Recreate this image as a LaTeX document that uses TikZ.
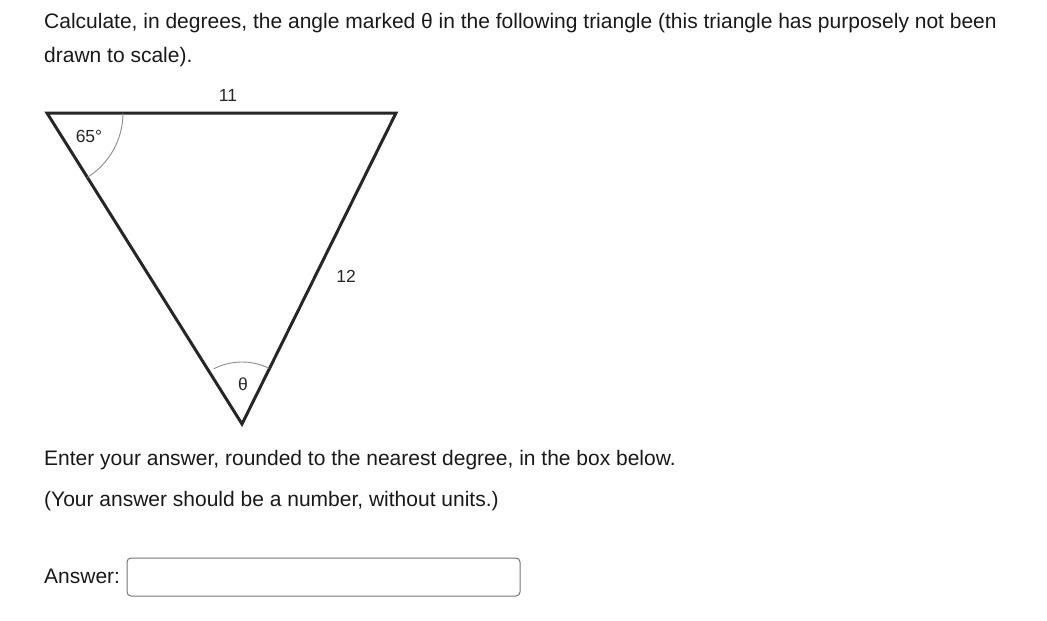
\documentclass[tikz,border=0pt]{standalone}
\usepackage{fontspec}
\setmainfont{Liberation Sans}
\begin{document}
\begin{tikzpicture}[x=1pt,y=-1pt,
  txt/.style={anchor=west,inner sep=0pt,font=\fontsize{21}{25}\selectfont,text=black!90},
  lbl/.style={inner sep=0pt,font=\fontsize{17.5}{20}\selectfont,text=black!85},
  tri/.style={draw=black!85,line width=3pt,line join=miter},
  arcline/.style={draw=black!45,line width=0.9pt}]
\useasboundingbox (0,0) rectangle (1047,621);
\node[txt] (l1) at (44,23) {Calculate, in degrees, the angle marked θ in the following triangle (this triangle has purposely not been};
\node[txt] (l2) at (44,57) {drawn to scale).};
\coordinate (A) at (47,113);
\coordinate (B) at (396,113);
\coordinate (C) at (242,424);
\draw[tri] (A) -- (B) -- (C) -- cycle;
\draw[arcline] (A) ++(0:76) arc[start angle=0,end angle=58,radius=76];
\draw[arcline] (C) ++(-117:62) arc[start angle=-117,end angle=-64,radius=62];
\node[lbl] (n11) at (228,95) {11};
\node[lbl] (n65) at (89,136) {65°};
\node[lbl] (n12) at (346,276) {12};
\node[lbl] (th) at (243,384) {θ};
\node[txt] (l3) at (44,460) {Enter your answer, rounded to the nearest degree, in the box below.};
\node[txt] (l4) at (44,501) {(Your answer should be a number, without units.)};
\node[txt] (l5) at (44,576) {Answer:};
\draw[draw=black!55,line width=1pt,rounded corners=4pt] (127,558) rectangle (520,596);
\end{tikzpicture}
\end{document}
